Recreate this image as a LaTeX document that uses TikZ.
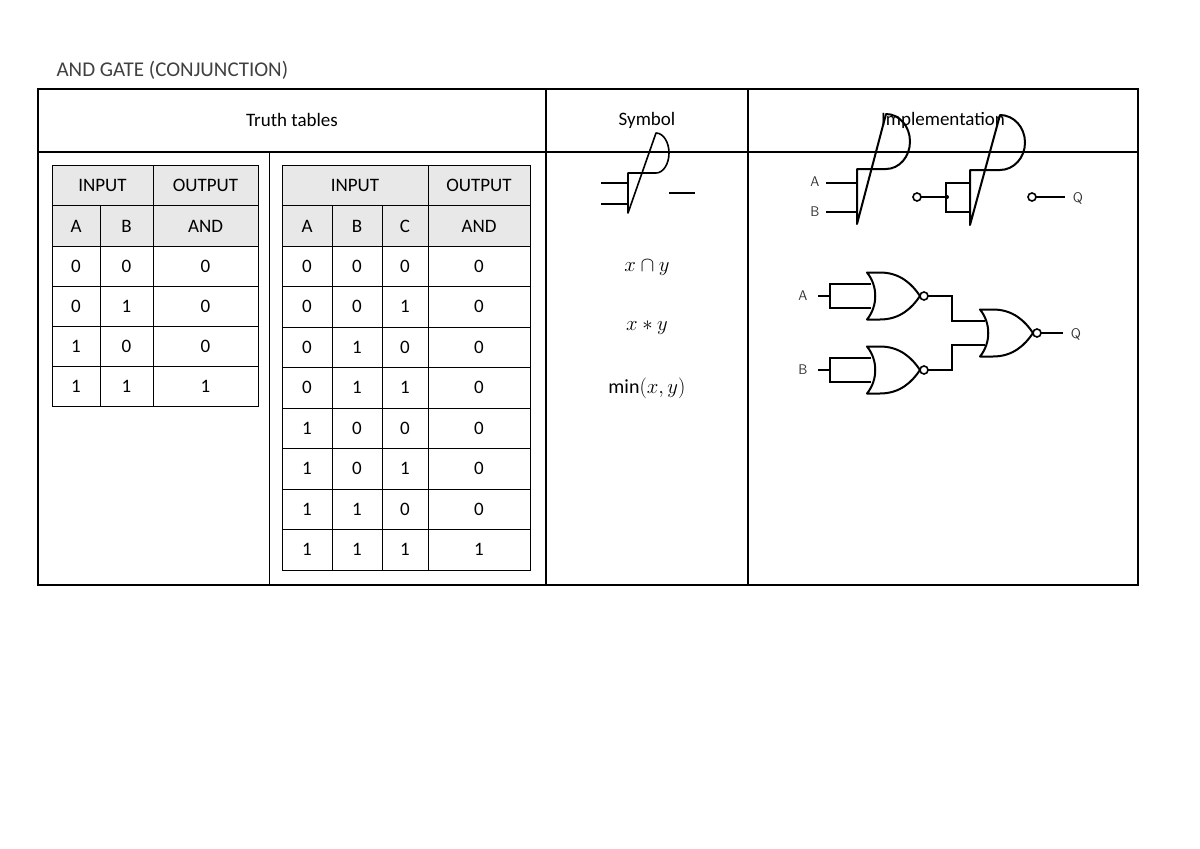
\documentclass[tikz,border=0pt]{standalone}
\usepackage{fontspec}
\usepackage{amsmath}
\setmainfont{Carlito}
\begin{document}
\begin{tikzpicture}[x=1pt,y=-1pt,
  cellh/.style={fill=black!9,draw=black,line width=0.6pt},
  cell/.style={draw=black,line width=0.6pt},
  txt/.style={font=\fontsize{19}{19}\selectfont},
  gate/.style={line width=2pt,line join=round},
  wire/.style={line width=1.2pt},
  glab/.style={font=\fontsize{14}{14}\sffamily\selectfont,text=black!80}]
\useasboundingbox (0,0) rectangle (1200,849);
\node[txt,anchor=west,text=black!75,font=\fontsize{21}{21}\selectfont] (title) at (53,70) {AND GATE (CONJUNCTION)};
% outer frame
\draw[line width=1.2pt] (38,89) rectangle (1138,585);
\draw[line width=1.2pt] (38,152) -- (1138,152) (546,89) -- (546,585) (748,89) -- (748,585);
\draw[line width=0.8pt] (269,152) -- (269,585);
\node[txt] (h1) at (292,120) {Truth tables};
\node[txt] (h2) at (647,120) {Symbol};
\node[txt] (h3) at (943,120) {Implementation};
% left table
\def\ra{165}\def\rh{40.5}
\draw[cellh] (52,165) rectangle (153,205.5);
\draw[cellh] (153,165) rectangle (258,205.5);
\draw[cellh] (52,205.5) rectangle (100,246);
\draw[cellh] (100,205.5) rectangle (153,246);
\draw[cellh] (153,205.5) rectangle (258,246);
\node[txt] at (102.5,185) {INPUT};
\node[txt] at (205.5,185) {OUTPUT};
\node[txt] at (76,226) {A};
\node[txt] at (126.5,226) {B};
\node[txt] at (205.5,226) {AND};
\foreach \a/\b/\o [count=\i] in {0/0/0,0/1/0,1/0/0,1/1/1}{
  \pgfmathsetmacro\yt{246+(\i-1)*40}
  \draw[cell] (52,\yt) rectangle (100,\yt+40);
  \draw[cell] (100,\yt) rectangle (153,\yt+40);
  \draw[cell] (153,\yt) rectangle (258,\yt+40);
  \node[txt] at (76,\yt+20) {\a};
  \node[txt] at (126.5,\yt+20) {\b};
  \node[txt] at (205.5,\yt+20) {\o};
}
% right table
\draw[cellh] (282,165) rectangle (428,205.5);
\draw[cellh] (428,165) rectangle (530,205.5);
\draw[cellh] (282,205.5) rectangle (332,246);
\draw[cellh] (332,205.5) rectangle (382,246);
\draw[cellh] (382,205.5) rectangle (428,246);
\draw[cellh] (428,205.5) rectangle (530,246);
\node[txt] at (355,185) {INPUT};
\node[txt] at (479,185) {OUTPUT};
\node[txt] at (307,226) {A};
\node[txt] at (357,226) {B};
\node[txt] at (405,226) {C};
\node[txt] at (479,226) {AND};
\foreach \a/\b/\c/\o [count=\i] in {0/0/0/0,0/0/1/0,0/1/0/0,0/1/1/0,1/0/0/0,1/0/1/0,1/1/0/0,1/1/1/1}{
  \pgfmathsetmacro\yt{246+(\i-1)*40.5}
  \draw[cell] (282,\yt) rectangle (332,\yt+40.5);
  \draw[cell] (332,\yt) rectangle (382,\yt+40.5);
  \draw[cell] (382,\yt) rectangle (428,\yt+40.5);
  \draw[cell] (428,\yt) rectangle (530,\yt+40.5);
  \node[txt] at (307,\yt+20) {\a};
  \node[txt] at (357,\yt+20) {\b};
  \node[txt] at (405,\yt+20) {\c};
  \node[txt] at (479,\yt+20) {\o};
}
% symbol
\draw[gate,line width=1.6pt] (628,173) -- (656,173) arc[start angle=-90,end angle=90,x radius=13,y radius=-20] -- (628,213) -- cycle;
\draw[wire,line width=1.4pt] (601,183) -- (628,183) (601,204) -- (628,204) (669,193) -- (695,193);
\node[font=\fontsize{20}{20}\selectfont] (m1) at (647,268) {$x\cap y$};
\node[font=\fontsize{20}{20}\selectfont] (m2) at (647,328) {$x*y$};
\node[font=\fontsize{20}{20}\selectfont] (m3) at (647,388) {$\min(x,y)$};
% NAND implementation
\draw[gate] (857,169) -- (886,169) arc[start angle=-90,end angle=90,x radius=24,y radius=-27.5] -- (857,224) -- cycle;
\draw[wire,line width=1.6pt] (917,197) circle (4);
\draw[wire] (826,183) -- (857,183) (826,212) -- (857,212) (921,197) -- (947,197);
\fill (947,197) circle (2);
\draw[wire] (970,183) -- (946,183) -- (946,212) -- (970,212);
\draw[gate] (970,170) -- (1000,170) arc[start angle=-90,end angle=90,x radius=25,y radius=-27.5] -- (970,225) -- cycle;
\draw[wire,line width=1.6pt] (1032,197) circle (4);
\draw[wire] (1036,197) -- (1065,197);
\node[glab] (na) at (815,182) {A};
\node[glab] (nb) at (815,212) {B};
\node[glab] (nq) at (1078,198) {Q};
% NOR implementation
\foreach \cx/\cy in {870/296,870/370,983/333}{
  \begin{scope}[shift={(\cx,\cy)}]
  \draw[gate] (-3,-23.5) .. controls (8,-10) and (8,10) .. (-3,23.5)
     -- (10,23.5) .. controls (30,23.5) and (42,12) .. (50,0)
     .. controls (42,-12) and (30,-23.5) .. (10,-23.5) -- cycle;
  \draw[wire,line width=1.6pt] (54,0) circle (4);
  \end{scope}
}
\foreach \cy in {296,370}{
  \draw[wire] (871,\cy-12) -- (830,\cy-12) -- (830,\cy+12) -- (871,\cy+12);
  \draw[wire] (818,\cy) -- (830,\cy);
}
\draw[wire] (928,296) -- (952,296) -- (952,321) -- (985,321);
\draw[wire] (928,370) -- (952,370) -- (952,345) -- (985,345);
\draw[wire] (1041,333) -- (1063,333);
\node[glab] (ra) at (803,296) {A};
\node[glab] (rb) at (803,370) {B};
\node[glab] (rq) at (1076,334) {Q};
\end{tikzpicture}
\end{document}
